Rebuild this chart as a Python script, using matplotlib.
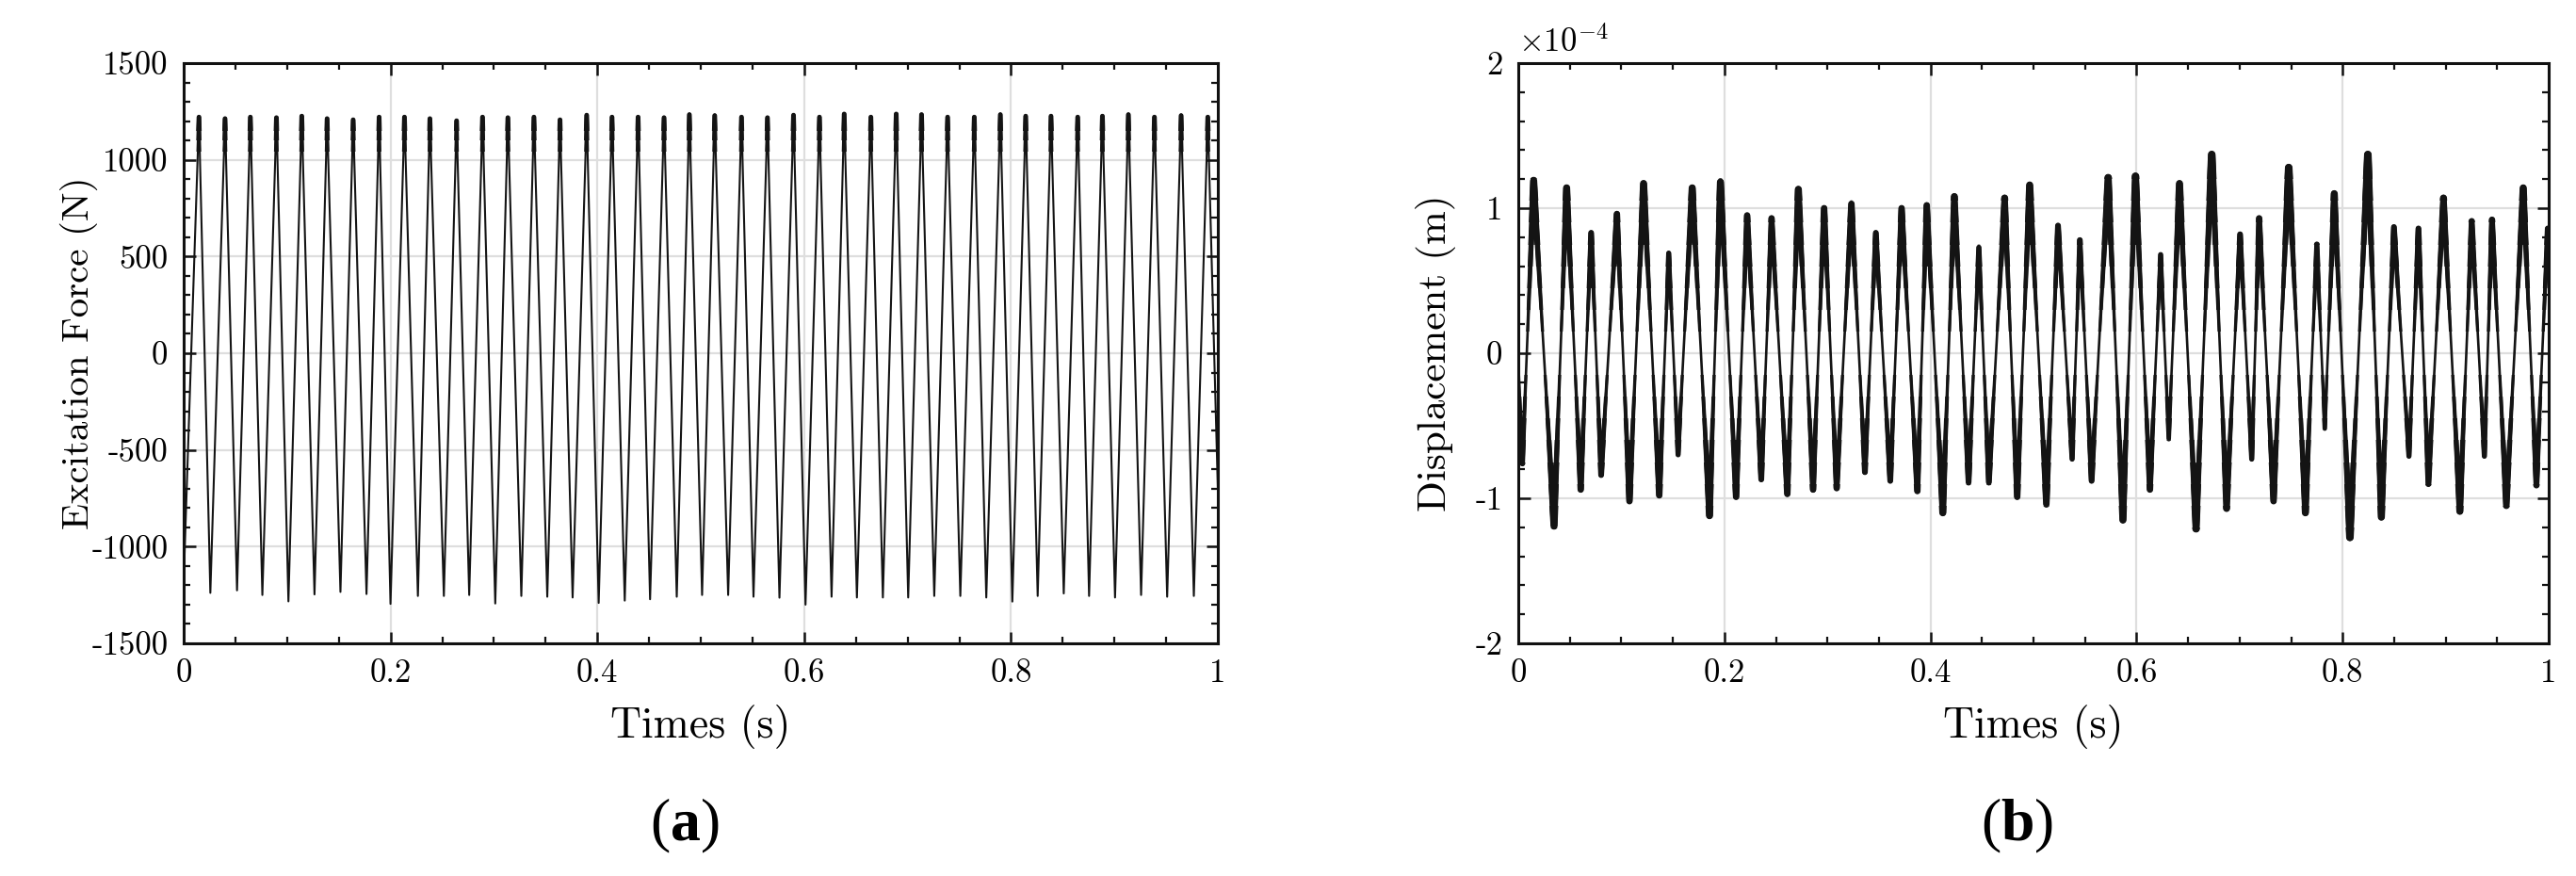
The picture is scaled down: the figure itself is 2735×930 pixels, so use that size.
import numpy as np
import matplotlib
matplotlib.use('Agg')
import matplotlib.pyplot as plt
from matplotlib.ticker import MultipleLocator, FuncFormatter
from matplotlib.patches import Rectangle

# ---- panel (a): excitation force ----
force_start = (0.0, -1180)
force_end = (1.0, -700)
force_peak_t = [0.0148, 0.0400, 0.0645, 0.0897, 0.1142, 0.1387, 0.1639, 0.1890,
                0.2135, 0.2381, 0.2639, 0.2890, 0.3135, 0.3387, 0.3639, 0.3897,
                0.4142, 0.4394, 0.4645, 0.4890, 0.5135, 0.5394, 0.5645, 0.5897,
                0.6148, 0.6387, 0.6645, 0.6890, 0.7135, 0.7387, 0.7645, 0.7897,
                0.8142, 0.8387, 0.8645, 0.8884, 0.9135, 0.9387, 0.9645, 0.9903]
force_peak = [1221, 1213, 1221, 1218, 1226, 1213, 1207, 1221, 1221, 1213,
              1202, 1221, 1218, 1221, 1207, 1231, 1221, 1221, 1218, 1234,
              1229, 1221, 1218, 1231, 1221, 1237, 1221, 1237, 1234, 1221,
              1221, 1234, 1226, 1226, 1221, 1226, 1234, 1221, 1229, 1221]
force_trough_t = [0.0258, 0.0516, 0.0761, 0.1013, 0.1265, 0.1516, 0.1768, 0.2000,
                  0.2265, 0.2516, 0.2761, 0.3013, 0.3265, 0.3516, 0.3761, 0.4013,
                  0.4265, 0.4510, 0.4768, 0.5013, 0.5265, 0.5510, 0.5761, 0.6013,
                  0.6265, 0.6510, 0.6761, 0.7006, 0.7258, 0.7510, 0.7761, 0.8013,
                  0.8258, 0.8510, 0.8755, 0.9006, 0.9258, 0.9510, 0.9768]
force_trough = [-1239, -1226, -1250, -1283, -1247, -1234, -1245, -1296, -1255, -1255,
                -1250, -1294, -1255, -1259, -1263, -1291, -1279, -1272, -1259, -1250,
                -1250, -1259, -1264, -1300, -1259, -1263, -1263, -1263, -1255, -1255,
                -1263, -1284, -1255, -1242, -1255, -1263, -1250, -1259, -1255]

# ---- panel (b): displacement (x1e-4 m) ----
disp_start = (0.0, -0.10)
disp_end = (1.0, 0.80)
disp_trough_t = [0.0040, 0.0347, 0.0606, 0.0804, 0.1079, 0.1368, 0.1551, 0.1856,
                 0.2114, 0.2358, 0.2611, 0.2861, 0.3090, 0.3364, 0.3610, 0.3873,
                 0.4120, 0.4370, 0.4567, 0.4842, 0.5125, 0.5375, 0.5564, 0.5868,
                 0.6130, 0.6313, 0.6578, 0.6874, 0.7118, 0.7330, 0.7639, 0.7827,
                 0.8071, 0.8376, 0.8644, 0.8833, 0.9138, 0.9376, 0.9589, 0.9881]
disp_trough = [-0.76, -1.19, -0.94, -0.84, -1.02, -0.98, -0.70, -1.12, -0.99, -0.87,
               -0.97, -0.94, -0.93, -0.82, -0.88, -0.95, -1.10, -0.89, -0.89, -0.99,
               -1.04, -0.73, -0.88, -1.15, -0.94, -0.59, -1.21, -1.07, -0.73, -1.02,
               -1.10, -0.52, -1.27, -1.13, -0.71, -0.90, -1.09, -0.71, -1.05, -0.91]
disp_peak_t = [0.0149, 0.0469, 0.0707, 0.0957, 0.1216, 0.1460, 0.1688, 0.1962,
               0.2221, 0.2458, 0.2718, 0.2968, 0.3233, 0.3470, 0.3720, 0.3964,
               0.4232, 0.4470, 0.4720, 0.4963, 0.5238, 0.5450, 0.5725, 0.5990,
               0.6234, 0.6417, 0.6730, 0.7005, 0.7190, 0.7477, 0.7750, 0.7919,
               0.8245, 0.8498, 0.8736, 0.8979, 0.9253, 0.9450, 0.9753, 0.9991]
disp_peak = [1.19, 1.14, 0.83, 0.96, 1.17, 0.69, 1.14, 1.18, 0.95, 0.93,
             1.13, 1.00, 1.03, 0.83, 1.00, 1.02, 1.08, 0.73, 1.07, 1.16,
             0.88, 0.78, 1.21, 1.22, 0.68, 1.17, 1.37, 0.82, 0.93, 1.28,
             0.75, 1.10, 1.37, 0.87, 0.86, 1.07, 0.91, 0.92, 1.14, 0.86]


def merge(start, first_t, first_v, second_t, second_v, end):
    # put the read extrema in time order
    pts = [start] + list(zip(first_t, first_v)) + list(zip(second_t, second_v)) + [end]
    pts.sort(key=lambda p: p[0])
    t = np.array([p[0] for p in pts])
    v = np.array([p[1] for p in pts])
    return t, v


t_a, f_a = merge(force_start, force_peak_t, force_peak, force_trough_t, force_trough, force_end)
t_b, d_b = merge(disp_start, disp_trough_t, disp_trough, disp_peak_t, disp_peak, disp_end)

plt.rcParams['font.family'] = ['cmr10', 'DejaVu Serif']
plt.rcParams['axes.unicode_minus'] = False
plt.rcParams['mathtext.fontset'] = 'custom'
plt.rcParams['mathtext.rm'] = 'Liberation Serif'
plt.rcParams['mathtext.bf'] = 'Liberation Serif:bold'

W, H = 2735, 930
fig = plt.figure(figsize=(W / 100, H / 100), dpi=100)
ax1 = fig.add_axes([195 / W, 1 - 683 / H, 1098 / W, 616 / H])
ax2 = fig.add_axes([1612 / W, 1 - 683 / H, 1094 / W, 616 / H])

lc = '#141414'


def style(ax, ymaj, ymin):
    ax.set_xlim(0, 1)
    ax.xaxis.set_major_locator(MultipleLocator(0.2))
    ax.xaxis.set_minor_locator(MultipleLocator(0.05))
    ax.yaxis.set_major_locator(MultipleLocator(ymaj))
    ax.yaxis.set_minor_locator(MultipleLocator(ymin))
    ax.xaxis.set_major_formatter(FuncFormatter(lambda x, p: '%g' % round(x, 3)))
    ax.yaxis.set_major_formatter(FuncFormatter(lambda y, p: '%g' % round(y, 3)))
    ax.grid(True, which='major', color='#dedede', lw=1.6)
    ax.set_axisbelow(True)
    ax.tick_params(which='both', direction='in', top=True, right=True, labelsize=25,
                   color='#111111')
    ax.tick_params(which='major', length=9, width=1.8, pad=12)
    ax.tick_params(which='minor', length=5, width=1.6)
    for s in ax.spines.values():
        s.set_linewidth(2.2)
        s.set_color('#111111')


def layered(ax, t, v, base_lw, steps):
    # thin line everywhere, heavier strokes where the trace sits near its extremes
    ax.plot(t, v, color=lc, lw=base_lw)
    for level, lw in steps:
        up = ax.plot(t, v, color=lc, lw=lw)[0]
        up.set_clip_path(Rectangle((0, level), 1, 1e4, transform=ax.transData))
        lo = ax.plot(t, v, color=lc, lw=lw)[0]
        lo.set_clip_path(Rectangle((0, -level - 1e4), 1, 1e4, transform=ax.transData))


# panel (a)
ax1.plot(t_a, f_a, color=lc, lw=1.5)
for level, lw in [(1040, 2.2), (1100, 3.0), (1150, 3.6)]:
    th = ax1.plot(t_a, f_a, color=lc, lw=lw)[0]
    th.set_clip_path(Rectangle((0, level), 1, 1000, transform=ax1.transData))
ax1.set_ylim(-1500, 1500)
style(ax1, 500, 100)
ax1.set_xlabel('Times (s)', fontsize=33)
ax1.set_ylabel('Excitation Force (N)', fontsize=29.5)
ax1.xaxis.set_label_coords(0.5, -0.105)
ax1.yaxis.set_label_coords(-0.083, 0.5)

# panel (b)
layered(ax2, t_b, d_b, 1.9,
        [(0.15, 2.4), (0.3, 2.9), (0.45, 3.4), (0.6, 3.9), (0.75, 4.4),
         (0.9, 4.9), (1.05, 5.4), (1.2, 5.8)])
ax2.set_ylim(-2, 2)
style(ax2, 1, 0.2)
ax2.set_xlabel('Times (s)', fontsize=33)
ax2.set_ylabel('Displacement (m)', fontsize=31)
ax2.xaxis.set_label_coords(0.5, -0.105)
ax2.yaxis.set_label_coords(-0.06, 0.5)
ax2.text(0.0, 1.02, r'$\times10^{-4}$', transform=ax2.transAxes, fontsize=25,
         ha='left', va='baseline', math_fontfamily='cm')

fig.text(727 / W, 1 - 877 / H, r'($\mathbf{a}$)', fontsize=46, ha='center', va='center',
         family='Liberation Serif', math_fontfamily='custom')
fig.text(2142 / W, 1 - 877 / H, r'($\mathbf{b}$)', fontsize=46, ha='center', va='center',
         family='Liberation Serif', math_fontfamily='custom')

fig.savefig('out.png', dpi=100)
